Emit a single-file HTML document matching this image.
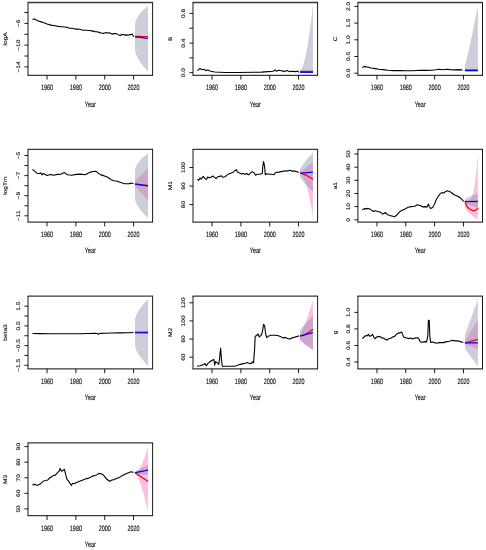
<!DOCTYPE html>
<html><head><meta charset="utf-8"><title>Forecast plots</title>
<style>html,body{margin:0;padding:0;background:#fff;}body{width:486px;height:550px;overflow:hidden;}svg{display:block;}</style>
</head><body>
<svg width="486" height="550" viewBox="0 0 486 550" font-family="'Liberation Sans', Arial, sans-serif" text-rendering="geometricPrecision" fill="#111">
<rect width="486" height="550" fill="#fff"/>
<polygon points="135.01,24.3 135.33,22.21 135.65,21.14 135.98,20.28 136.3,19.53 136.63,18.86 136.95,18.24 137.28,17.66 137.6,17.11 137.93,16.59 138.25,16.1 138.58,15.62 138.9,15.17 139.22,14.73 139.55,14.3 139.87,13.89 140.2,13.48 140.52,13.09 140.85,12.71 141.17,12.33 141.5,11.97 141.82,11.61 142.14,11.26 142.47,10.91 142.79,10.57 143.12,10.24 143.44,9.92 143.77,9.59 144.09,9.28 144.42,8.97 144.74,8.66 145.06,8.36 145.39,8.06 145.71,7.76 146.04,7.47 146.36,7.19 146.69,6.9 147.01,6.62 147.34,6.34 147.66,6.07 147.99,5.8 147.99,71.6 147.66,71.26 147.34,70.91 147.01,70.56 146.69,70.2 146.36,69.84 146.04,69.48 145.71,69.12 145.39,68.75 145.06,68.37 144.74,67.99 144.42,67.61 144.09,67.22 143.77,66.82 143.44,66.42 143.12,66.02 142.79,65.6 142.47,65.19 142.14,64.76 141.82,64.33 141.5,63.88 141.17,63.43 140.85,62.98 140.52,62.51 140.2,62.03 139.87,61.54 139.55,61.03 139.22,60.51 138.9,59.98 138.58,59.43 138.25,58.86 137.93,58.27 137.6,57.65 137.28,57 136.95,56.31 136.63,55.57 136.3,54.78 135.98,53.9 135.65,52.9 135.33,51.67 135.01,49.3" fill="rgba(130,130,165,0.4)"/>
<polyline points="32.5,19.6 34.4,18.9 37.6,20.8 42,22.1 47.1,24 51,25.1 55,25.8 58.3,26.4 61.6,26.7 64.9,27 67.3,27.4 69.4,28.2 71.5,28.2 73.5,28.5 75.2,29.1 77.6,29.1 79.7,29.2 81.3,29.7 83.4,30.3 86.3,30.3 89.6,30.5 92,30.9 95,31.6 97.1,31.8 99.1,32.4 101.2,33 103.2,33.4 104.5,33 106.1,32.6 107.3,33 109,32.7 110.2,33.2 111.5,33.8 112.4,34.2 113.5,33.6 115.6,33.6 117.2,34.1 118.9,35.1 120.1,35.5 121.3,34.6 123,34.5 124.6,35.1 126.3,34.9 127.9,35.2 129.6,34.6 131.2,34.4 132.4,34.2 133.3,36 133.7,36.7" fill="none" stroke="#000" stroke-width="1.1" stroke-linejoin="round"/>
<polyline points="135.01,36.4 135.65,36.41 136.3,36.42 136.95,36.43 137.6,36.44 138.25,36.45 138.9,36.46 139.55,36.47 140.2,36.48 140.85,36.49 141.5,36.5 142.14,36.51 142.79,36.52 143.44,36.53 144.09,36.54 144.74,36.55 145.39,36.56 146.04,36.57 146.69,36.58 147.34,36.59 147.99,36.6" fill="none" stroke="#ff0000" stroke-width="1.25"/>
<polyline points="135.01,36.9 135.65,36.98 136.3,37.05 136.95,37.12 137.6,37.2 138.25,37.27 138.9,37.35 139.55,37.42 140.2,37.5 140.85,37.57 141.5,37.65 142.14,37.73 142.79,37.8 143.44,37.88 144.09,37.95 144.74,38.02 145.39,38.1 146.04,38.17 146.69,38.25 147.34,38.32 147.99,38.4" fill="none" stroke="#0000ff" stroke-width="1.25"/>
<path d="M27.55 2.5H153.05 M27.55 75.3H153.05" stroke="#3a3a3a" stroke-width="1.3" fill="none"/>
<path d="M28 2.5V75.3 M152.6 2.5V75.3" stroke="#000" stroke-width="0.9" fill="none"/>
<text transform="translate(47.04,90.3) scale(0.7,1)" text-anchor="middle" font-size="7.8" stroke="#111" stroke-width="0.15">1960</text>
<text transform="translate(75.88,90.3) scale(0.7,1)" text-anchor="middle" font-size="7.8" stroke="#111" stroke-width="0.15">1980</text>
<text transform="translate(104.72,90.3) scale(0.7,1)" text-anchor="middle" font-size="7.8" stroke="#111" stroke-width="0.15">2000</text>
<text transform="translate(133.56,90.3) scale(0.7,1)" text-anchor="middle" font-size="7.8" stroke="#111" stroke-width="0.15">2020</text>
<text transform="translate(20.4,23.4) scale(0.8,1) rotate(-90)" text-anchor="middle" font-size="6.6" stroke="#111" stroke-width="0.15">−6</text>
<text transform="translate(20.4,45.15) scale(0.8,1) rotate(-90)" text-anchor="middle" font-size="6.6" stroke="#111" stroke-width="0.15">−10</text>
<text transform="translate(20.4,66.9) scale(0.8,1) rotate(-90)" text-anchor="middle" font-size="6.6" stroke="#111" stroke-width="0.15">−14</text>
<path d="M47.04 75.3V79.6 M75.88 75.3V79.6 M104.72 75.3V79.6 M133.56 75.3V79.6 M24.4 12.52H28 M24.4 23.4H28 M24.4 34.27H28 M24.4 45.15H28 M24.4 56.03H28 M24.4 66.9H28" stroke="#000" stroke-width="0.9" fill="none"/>
<text transform="translate(90.3,106.6) scale(0.7,1)" text-anchor="middle" font-size="7.8" stroke="#111" stroke-width="0.15">Year</text>
<text transform="translate(7.4,38.9) scale(0.8,1) rotate(-90)" text-anchor="middle" font-size="6.6" stroke="#111" stroke-width="0.15">logA</text>
<polygon points="300.01,71.23 300.33,70.89 300.65,70.49 300.98,70.02 301.3,69.48 301.63,68.87 301.95,68.2 302.28,67.46 302.6,66.65 302.93,65.77 303.25,64.82 303.58,63.81 303.9,62.73 304.22,61.58 304.55,60.36 304.87,59.08 305.2,57.72 305.52,56.3 305.85,54.81 306.17,53.26 306.5,51.63 306.82,49.94 307.14,48.18 307.47,46.35 307.79,44.46 308.12,42.49 308.44,40.46 308.77,38.36 309.09,36.2 309.42,33.96 309.74,31.66 310.06,29.29 310.39,26.85 310.71,24.34 311.04,21.77 311.36,19.13 311.69,16.42 312.01,13.64 312.34,10.79 312.66,7.88 312.99,4.9 312.99,72.8 312.66,72.8 312.34,72.8 312.01,72.8 311.69,72.8 311.36,72.8 311.04,72.8 310.71,72.8 310.39,72.8 310.06,72.8 309.74,72.8 309.42,72.8 309.09,72.8 308.77,72.8 308.44,72.8 308.12,72.8 307.79,72.8 307.47,72.8 307.14,72.8 306.82,72.8 306.5,72.8 306.17,72.8 305.85,72.8 305.52,72.8 305.2,72.8 304.87,72.8 304.55,72.8 304.22,72.8 303.9,72.8 303.58,72.8 303.25,72.8 302.93,72.8 302.6,72.8 302.28,72.8 301.95,72.8 301.63,72.8 301.3,72.8 300.98,72.8 300.65,72.8 300.33,72.8 300.01,72.8" fill="rgba(130,130,165,0.4)"/>
<polyline points="197.5,70.6 200,68.4 201.9,69.7 204.5,69.3 205.8,70.6 207.7,70 210.9,71.3 214.7,72 224.9,72.5 237.6,72.5 255,72.2 261.5,72.1 268,71.6 273.1,71.2 275.1,69.9 276.4,71.2 279,70.3 281.6,70.8 284.2,71.6 286.8,70.6 289.4,71.6 292.6,71.2 295.2,71.6 297.8,71.2 298.8,72.3" fill="none" stroke="#000" stroke-width="1.1" stroke-linejoin="round"/>
<polyline points="300.01,71.4 300.65,71.4 301.3,71.4 301.95,71.4 302.6,71.4 303.25,71.4 303.9,71.4 304.55,71.4 305.2,71.4 305.85,71.4 306.5,71.4 307.14,71.4 307.79,71.4 308.44,71.4 309.09,71.4 309.74,71.4 310.39,71.4 311.04,71.4 311.69,71.4 312.34,71.4 312.99,71.4" fill="none" stroke="#ff0000" stroke-width="1.25"/>
<polyline points="300.01,72.3 300.65,72.3 301.3,72.3 301.95,72.3 302.6,72.3 303.25,72.3 303.9,72.3 304.55,72.3 305.2,72.3 305.85,72.3 306.5,72.3 307.14,72.3 307.79,72.3 308.44,72.3 309.09,72.3 309.74,72.3 310.39,72.3 311.04,72.3 311.69,72.3 312.34,72.3 312.99,72.3" fill="none" stroke="#0000ff" stroke-width="1.25"/>
<path d="M192.55 2.5H318.05 M192.55 75.3H318.05" stroke="#3a3a3a" stroke-width="1.3" fill="none"/>
<path d="M193 2.5V75.3 M317.6 2.5V75.3" stroke="#000" stroke-width="0.9" fill="none"/>
<text transform="translate(212.04,90.3) scale(0.7,1)" text-anchor="middle" font-size="7.8" stroke="#111" stroke-width="0.15">1960</text>
<text transform="translate(240.88,90.3) scale(0.7,1)" text-anchor="middle" font-size="7.8" stroke="#111" stroke-width="0.15">1980</text>
<text transform="translate(269.72,90.3) scale(0.7,1)" text-anchor="middle" font-size="7.8" stroke="#111" stroke-width="0.15">2000</text>
<text transform="translate(298.56,90.3) scale(0.7,1)" text-anchor="middle" font-size="7.8" stroke="#111" stroke-width="0.15">2020</text>
<text transform="translate(185.4,72.7) scale(0.8,1) rotate(-90)" text-anchor="middle" font-size="6.6" stroke="#111" stroke-width="0.15">0.0</text>
<text transform="translate(185.4,43.05) scale(0.8,1) rotate(-90)" text-anchor="middle" font-size="6.6" stroke="#111" stroke-width="0.15">0.4</text>
<text transform="translate(185.4,13.4) scale(0.8,1) rotate(-90)" text-anchor="middle" font-size="6.6" stroke="#111" stroke-width="0.15">0.8</text>
<path d="M212.04 75.3V79.6 M240.88 75.3V79.6 M269.72 75.3V79.6 M298.56 75.3V79.6 M189.4 72.7H193 M189.4 57.88H193 M189.4 43.05H193 M189.4 28.23H193 M189.4 13.4H193" stroke="#000" stroke-width="0.9" fill="none"/>
<text transform="translate(255.3,106.6) scale(0.7,1)" text-anchor="middle" font-size="7.8" stroke="#111" stroke-width="0.15">Year</text>
<text transform="translate(172.4,38.9) scale(0.8,1) rotate(-90)" text-anchor="middle" font-size="6.6" stroke="#111" stroke-width="0.15">B</text>
<polygon points="464.91,65.92 465.23,64.72 465.55,63.48 465.88,62.21 466.2,60.92 466.53,59.6 466.85,58.26 467.18,56.91 467.5,55.53 467.83,54.14 468.15,52.73 468.48,51.31 468.8,49.88 469.12,48.43 469.45,46.97 469.77,45.49 470.1,44.01 470.42,42.51 470.75,41.01 471.07,39.49 471.4,37.97 471.72,36.43 472.04,34.89 472.37,33.33 472.69,31.77 473.02,30.2 473.34,28.63 473.67,27.04 473.99,25.45 474.32,23.85 474.64,22.24 474.96,20.62 475.29,19 475.61,17.37 475.94,15.74 476.26,14.1 476.59,12.45 476.91,10.8 477.24,9.14 477.56,7.47 477.89,5.8 477.89,71.5 477.56,71.5 477.24,71.5 476.91,71.5 476.59,71.5 476.26,71.5 475.94,71.5 475.61,71.5 475.29,71.5 474.96,71.5 474.64,71.5 474.32,71.5 473.99,71.5 473.67,71.5 473.34,71.5 473.02,71.5 472.69,71.5 472.37,71.5 472.04,71.5 471.72,71.5 471.4,71.5 471.07,71.5 470.75,71.5 470.42,71.5 470.1,71.5 469.77,71.5 469.45,71.5 469.12,71.5 468.8,71.5 468.48,71.5 468.15,71.5 467.83,71.5 467.5,71.5 467.18,71.5 466.85,71.5 466.53,71.5 466.2,71.5 465.88,71.5 465.55,71.5 465.23,71.5 464.91,71.5" fill="rgba(130,130,165,0.4)"/>
<polyline points="362.2,67.6 364.1,66.4 366.1,66.9 368.7,67.3 371.3,68 375.1,68.6 379,69.3 382.9,69.6 388.1,70.3 393.3,70.6 399.8,70.6 406.3,70.8 412.7,70.8 420,70.3 426,70.4 432,70.2 436,69.8 439.4,69.2 443,69.8 447,69.3 450,69.6 455,69.9 459,69.6 462.4,70.1" fill="none" stroke="#000" stroke-width="1.1" stroke-linejoin="round"/>
<polyline points="464.91,69.9 465.55,69.9 466.2,69.9 466.85,69.9 467.5,69.9 468.15,69.9 468.8,69.9 469.45,69.9 470.1,69.9 470.75,69.9 471.4,69.9 472.04,69.9 472.69,69.9 473.34,69.9 473.99,69.9 474.64,69.9 475.29,69.9 475.94,69.9 476.59,69.9 477.24,69.9 477.89,69.9" fill="none" stroke="#ff0000" stroke-width="1.25"/>
<polyline points="464.91,70.6 465.55,70.6 466.2,70.6 466.85,70.6 467.5,70.6 468.15,70.6 468.8,70.6 469.45,70.6 470.1,70.6 470.75,70.6 471.4,70.6 472.04,70.6 472.69,70.6 473.34,70.6 473.99,70.6 474.64,70.6 475.29,70.6 475.94,70.6 476.59,70.6 477.24,70.6 477.89,70.6" fill="none" stroke="#0000ff" stroke-width="1.25"/>
<path d="M357.45 2.5H482.95 M357.45 75.3H482.95" stroke="#3a3a3a" stroke-width="1.3" fill="none"/>
<path d="M357.9 2.5V75.3 M482.5 2.5V75.3" stroke="#000" stroke-width="0.9" fill="none"/>
<text transform="translate(376.94,90.3) scale(0.7,1)" text-anchor="middle" font-size="7.8" stroke="#111" stroke-width="0.15">1960</text>
<text transform="translate(405.78,90.3) scale(0.7,1)" text-anchor="middle" font-size="7.8" stroke="#111" stroke-width="0.15">1980</text>
<text transform="translate(434.62,90.3) scale(0.7,1)" text-anchor="middle" font-size="7.8" stroke="#111" stroke-width="0.15">2000</text>
<text transform="translate(463.46,90.3) scale(0.7,1)" text-anchor="middle" font-size="7.8" stroke="#111" stroke-width="0.15">2020</text>
<text transform="translate(350.3,73.2) scale(0.8,1) rotate(-90)" text-anchor="middle" font-size="6.6" stroke="#111" stroke-width="0.15">0.0</text>
<text transform="translate(350.3,56.5) scale(0.8,1) rotate(-90)" text-anchor="middle" font-size="6.6" stroke="#111" stroke-width="0.15">0.5</text>
<text transform="translate(350.3,39.8) scale(0.8,1) rotate(-90)" text-anchor="middle" font-size="6.6" stroke="#111" stroke-width="0.15">1.0</text>
<text transform="translate(350.3,23.1) scale(0.8,1) rotate(-90)" text-anchor="middle" font-size="6.6" stroke="#111" stroke-width="0.15">1.5</text>
<text transform="translate(350.3,6.4) scale(0.8,1) rotate(-90)" text-anchor="middle" font-size="6.6" stroke="#111" stroke-width="0.15">2.0</text>
<path d="M376.94 75.3V79.6 M405.78 75.3V79.6 M434.62 75.3V79.6 M463.46 75.3V79.6 M354.3 73.2H357.9 M354.3 56.5H357.9 M354.3 39.8H357.9 M354.3 23.1H357.9 M354.3 6.4H357.9" stroke="#000" stroke-width="0.9" fill="none"/>
<text transform="translate(420.2,106.6) scale(0.7,1)" text-anchor="middle" font-size="7.8" stroke="#111" stroke-width="0.15">Year</text>
<text transform="translate(337.3,38.9) scale(0.8,1) rotate(-90)" text-anchor="middle" font-size="6.6" stroke="#111" stroke-width="0.15">C</text>
<polygon points="135.01,181.56 135.33,181.14 135.65,180.73 135.98,180.34 136.3,179.95 136.63,179.57 136.95,179.2 137.28,178.84 137.6,178.48 137.93,178.12 138.25,177.77 138.58,177.42 138.9,177.08 139.22,176.74 139.55,176.4 139.87,176.07 140.2,175.74 140.52,175.41 140.85,175.09 141.17,174.76 141.5,174.44 141.82,174.12 142.14,173.81 142.47,173.49 142.79,173.18 143.12,172.87 143.44,172.56 143.77,172.26 144.09,171.95 144.42,171.65 144.74,171.34 145.06,171.04 145.39,170.75 145.71,170.45 146.04,170.15 146.36,169.86 146.69,169.56 147.01,169.27 147.34,168.98 147.66,168.69 147.99,168.4 147.99,200.2 147.66,199.88 147.34,199.56 147.01,199.24 146.69,198.91 146.36,198.59 146.04,198.26 145.71,197.94 145.39,197.61 145.06,197.28 144.74,196.95 144.42,196.62 144.09,196.29 143.77,195.95 143.44,195.62 143.12,195.28 142.79,194.94 142.47,194.6 142.14,194.26 141.82,193.92 141.5,193.57 141.17,193.23 140.85,192.88 140.52,192.53 140.2,192.17 139.87,191.82 139.55,191.46 139.22,191.1 138.9,190.74 138.58,190.37 138.25,190 137.93,189.63 137.6,189.25 137.28,188.87 136.95,188.49 136.63,188.1 136.3,187.7 135.98,187.3 135.65,186.89 135.33,186.48 135.01,186.05" fill="rgba(255,0,140,0.25)"/>
<polygon points="135.01,170.5 135.33,168.49 135.65,167.47 135.98,166.65 136.3,165.95 136.63,165.31 136.95,164.73 137.28,164.19 137.6,163.68 137.93,163.2 138.25,162.74 138.58,162.3 138.9,161.88 139.22,161.47 139.55,161.08 139.87,160.7 140.2,160.33 140.52,159.97 140.85,159.62 141.17,159.28 141.5,158.95 141.82,158.62 142.14,158.3 142.47,157.99 142.79,157.68 143.12,157.38 143.44,157.09 143.77,156.8 144.09,156.51 144.42,156.23 144.74,155.96 145.06,155.68 145.39,155.42 145.71,155.15 146.04,154.89 146.36,154.63 146.69,154.38 147.01,154.13 147.34,153.88 147.66,153.64 147.99,153.4 147.99,218.1 147.66,217.79 147.34,217.47 147.01,217.15 146.69,216.83 146.36,216.51 146.04,216.18 145.71,215.85 145.39,215.52 145.06,215.18 144.74,214.84 144.42,214.49 144.09,214.14 143.77,213.79 143.44,213.43 143.12,213.06 142.79,212.69 142.47,212.32 142.14,211.94 141.82,211.55 141.5,211.16 141.17,210.76 140.85,210.35 140.52,209.93 140.2,209.51 139.87,209.07 139.55,208.63 139.22,208.17 138.9,207.7 138.58,207.22 138.25,206.72 137.93,206.2 137.6,205.66 137.28,205.09 136.95,204.49 136.63,203.85 136.3,203.17 135.98,202.41 135.65,201.55 135.33,200.5 135.01,198.5" fill="rgba(130,130,165,0.4)"/>
<polyline points="32.5,169.3 34.4,170.9 36.9,173.2 39.5,173.5 40.8,172.9 42,174.8 43.3,173.5 47.1,175.4 50.3,174.4 53.5,175.2 57.3,174.4 61.2,174.1 64.4,172.6 67.5,174.8 71.4,175.2 76.5,174.4 80.3,174.1 85.4,174.8 88,173.2 90.7,172.1 92.8,171.5 96.2,171.4 98.2,173.2 100.9,174.9 104.4,175.9 107.8,177.3 111.2,179.7 113.9,180.7 117.3,181.3 120.7,182.4 124.8,183.7 128.9,183.7 131.6,183.1 133.5,183.8" fill="none" stroke="#000" stroke-width="1.1" stroke-linejoin="round"/>
<polyline points="135.01,184.2 135.65,184.29 136.3,184.38 136.95,184.47 137.6,184.56 138.25,184.65 138.9,184.74 139.55,184.83 140.2,184.92 140.85,185.01 141.5,185.1 142.14,185.19 142.79,185.28 143.44,185.37 144.09,185.46 144.74,185.55 145.39,185.64 146.04,185.73 146.69,185.82 147.34,185.91 147.99,186" fill="none" stroke="#ff0000" stroke-width="1.25"/>
<polyline points="135.01,184 135.65,184.08 136.3,184.16 136.95,184.24 137.6,184.32 138.25,184.4 138.9,184.48 139.55,184.56 140.2,184.64 140.85,184.72 141.5,184.8 142.14,184.88 142.79,184.96 143.44,185.04 144.09,185.12 144.74,185.2 145.39,185.28 146.04,185.36 146.69,185.44 147.34,185.52 147.99,185.6" fill="none" stroke="#0000ff" stroke-width="1.25"/>
<path d="M27.55 149.3H153.05 M27.55 222.1H153.05" stroke="#3a3a3a" stroke-width="1.3" fill="none"/>
<path d="M28 149.3V222.1 M152.6 149.3V222.1" stroke="#000" stroke-width="0.9" fill="none"/>
<text transform="translate(47.04,237.1) scale(0.7,1)" text-anchor="middle" font-size="7.8" stroke="#111" stroke-width="0.15">1960</text>
<text transform="translate(75.88,237.1) scale(0.7,1)" text-anchor="middle" font-size="7.8" stroke="#111" stroke-width="0.15">1980</text>
<text transform="translate(104.72,237.1) scale(0.7,1)" text-anchor="middle" font-size="7.8" stroke="#111" stroke-width="0.15">2000</text>
<text transform="translate(133.56,237.1) scale(0.7,1)" text-anchor="middle" font-size="7.8" stroke="#111" stroke-width="0.15">2020</text>
<text transform="translate(20.4,155.5) scale(0.8,1) rotate(-90)" text-anchor="middle" font-size="6.6" stroke="#111" stroke-width="0.15">−5</text>
<text transform="translate(20.4,175.6) scale(0.8,1) rotate(-90)" text-anchor="middle" font-size="6.6" stroke="#111" stroke-width="0.15">−7</text>
<text transform="translate(20.4,195.7) scale(0.8,1) rotate(-90)" text-anchor="middle" font-size="6.6" stroke="#111" stroke-width="0.15">−9</text>
<text transform="translate(20.4,215.8) scale(0.8,1) rotate(-90)" text-anchor="middle" font-size="6.6" stroke="#111" stroke-width="0.15">−11</text>
<path d="M47.04 222.1V226.4 M75.88 222.1V226.4 M104.72 222.1V226.4 M133.56 222.1V226.4 M24.4 155.5H28 M24.4 165.55H28 M24.4 175.6H28 M24.4 185.65H28 M24.4 195.7H28 M24.4 205.75H28 M24.4 215.8H28" stroke="#000" stroke-width="0.9" fill="none"/>
<text transform="translate(90.3,253.4) scale(0.7,1)" text-anchor="middle" font-size="7.8" stroke="#111" stroke-width="0.15">Year</text>
<text transform="translate(7.4,185.7) scale(0.8,1) rotate(-90)" text-anchor="middle" font-size="6.6" stroke="#111" stroke-width="0.15">logTm</text>
<polygon points="300.01,172.06 300.33,171.8 300.65,171.54 300.98,171.28 301.3,171.01 301.63,170.75 301.95,170.49 302.28,170.23 302.6,169.97 302.93,169.71 303.25,169.45 303.58,169.18 303.9,168.92 304.22,168.66 304.55,168.4 304.87,168.14 305.2,167.88 305.52,167.61 305.85,167.35 306.17,167.09 306.5,166.83 306.82,166.57 307.14,166.31 307.47,166.05 307.79,165.78 308.12,165.52 308.44,165.26 308.77,165 309.09,164.74 309.42,164.48 309.74,164.22 310.06,163.95 310.39,163.69 310.71,163.43 311.04,163.17 311.36,162.91 311.69,162.65 312.01,162.38 312.34,162.12 312.66,161.86 312.99,161.6 312.99,218.1 312.66,215.96 312.34,213.87 312.01,211.84 311.69,209.86 311.36,207.95 311.04,206.09 310.71,204.28 310.39,202.53 310.06,200.84 309.74,199.2 309.42,197.62 309.09,196.09 308.77,194.61 308.44,193.19 308.12,191.82 307.79,190.51 307.47,189.24 307.14,188.03 306.82,186.88 306.5,185.77 306.17,184.71 305.85,183.71 305.52,182.75 305.2,181.85 304.87,180.99 304.55,180.19 304.22,179.43 303.9,178.72 303.58,178.05 303.25,177.44 302.93,176.87 302.6,176.34 302.28,175.86 301.95,175.42 301.63,175.03 301.3,174.68 300.98,174.37 300.65,174.1 300.33,173.86 300.01,173.67" fill="rgba(255,0,140,0.25)"/>
<polygon points="300.01,169.27 300.33,168.65 300.65,168.06 300.98,167.5 301.3,166.96 301.63,166.44 301.95,165.93 302.28,165.44 302.6,164.96 302.93,164.49 303.25,164.03 303.58,163.58 303.9,163.14 304.22,162.7 304.55,162.28 304.87,161.86 305.2,161.44 305.52,161.03 305.85,160.63 306.17,160.23 306.5,159.84 306.82,159.45 307.14,159.06 307.47,158.68 307.79,158.31 308.12,157.93 308.44,157.56 308.77,157.2 309.09,156.84 309.42,156.48 309.74,156.12 310.06,155.77 310.39,155.42 310.71,155.07 311.04,154.72 311.36,154.38 311.69,154.04 312.01,153.7 312.34,153.36 312.66,153.03 312.99,152.7 312.99,191.6 312.66,191.32 312.34,191.03 312.01,190.74 311.69,190.45 311.36,190.16 311.04,189.87 310.71,189.57 310.39,189.27 310.06,188.97 309.74,188.66 309.42,188.35 309.09,188.04 308.77,187.73 308.44,187.41 308.12,187.09 307.79,186.77 307.47,186.44 307.14,186.11 306.82,185.77 306.5,185.43 306.17,185.09 305.85,184.74 305.52,184.39 305.2,184.03 304.87,183.66 304.55,183.29 304.22,182.92 303.9,182.53 303.58,182.14 303.25,181.74 302.93,181.33 302.6,180.92 302.28,180.49 301.95,180.05 301.63,179.59 301.3,179.12 300.98,178.64 300.65,178.13 300.33,177.6 300.01,177.03" fill="rgba(130,130,165,0.4)"/>
<polyline points="197.5,179 198.7,180.3 200,178 201.3,179.2 203.2,176.4 205.1,178.6 206.4,179.5 207.7,176.9 208.9,177.7 210.9,177.3 212.8,176 214,176.9 216,178.6 217.9,176.7 219.8,176.4 221.1,175.7 223,177.3 224.9,176.7 226.8,175.4 228.7,173.9 231.3,172.9 233.2,172.2 234.5,170.9 236.4,169.7 237.6,172.2 239.6,172.9 241.5,173.9 243.4,173.5 245.3,174.4 246.6,173.5 248.5,174.8 250.4,173.1 252.3,171.6 254.2,172.9 255.5,175.2 257.1,174.3 259.8,174.3 262.3,173.4 262.8,166.4 263.6,161.6 264.6,166.4 265.3,174.8 266.6,173.8 269.4,174.3 272.1,174.3 274.1,174.8 275.5,172.5 278.9,172.1 282.3,171.4 285.7,170.7 287.8,171.1 289.8,170.2 291.8,171.1 294.6,171.1 296.6,171.5 298.7,172.5" fill="none" stroke="#000" stroke-width="1.1" stroke-linejoin="round"/>
<polyline points="300.01,173.3 300.65,173.37 301.3,173.49 301.95,173.65 302.6,173.84 303.25,174.05 303.9,174.29 304.55,174.54 305.2,174.82 305.85,175.11 306.5,175.42 307.14,175.75 307.79,176.09 308.44,176.44 309.09,176.81 309.74,177.2 310.39,177.59 311.04,178 311.69,178.42 312.34,178.86 312.99,179.3" fill="none" stroke="#ff0000" stroke-width="1.25"/>
<polyline points="300.01,173.2 300.65,173.15 301.3,173.1 301.95,173.05 302.6,173 303.25,172.95 303.9,172.9 304.55,172.85 305.2,172.8 305.85,172.75 306.5,172.7 307.14,172.65 307.79,172.6 308.44,172.55 309.09,172.5 309.74,172.45 310.39,172.4 311.04,172.35 311.69,172.3 312.34,172.25 312.99,172.2" fill="none" stroke="#0000ff" stroke-width="1.25"/>
<path d="M192.55 149.3H318.05 M192.55 222.1H318.05" stroke="#3a3a3a" stroke-width="1.3" fill="none"/>
<path d="M193 149.3V222.1 M317.6 149.3V222.1" stroke="#000" stroke-width="0.9" fill="none"/>
<text transform="translate(212.04,237.1) scale(0.7,1)" text-anchor="middle" font-size="7.8" stroke="#111" stroke-width="0.15">1960</text>
<text transform="translate(240.88,237.1) scale(0.7,1)" text-anchor="middle" font-size="7.8" stroke="#111" stroke-width="0.15">1980</text>
<text transform="translate(269.72,237.1) scale(0.7,1)" text-anchor="middle" font-size="7.8" stroke="#111" stroke-width="0.15">2000</text>
<text transform="translate(298.56,237.1) scale(0.7,1)" text-anchor="middle" font-size="7.8" stroke="#111" stroke-width="0.15">2020</text>
<text transform="translate(185.4,204.6) scale(0.8,1) rotate(-90)" text-anchor="middle" font-size="6.6" stroke="#111" stroke-width="0.15">80</text>
<text transform="translate(185.4,186.05) scale(0.8,1) rotate(-90)" text-anchor="middle" font-size="6.6" stroke="#111" stroke-width="0.15">90</text>
<text transform="translate(185.4,167.5) scale(0.8,1) rotate(-90)" text-anchor="middle" font-size="6.6" stroke="#111" stroke-width="0.15">100</text>
<path d="M212.04 222.1V226.4 M240.88 222.1V226.4 M269.72 222.1V226.4 M298.56 222.1V226.4 M189.4 204.6H193 M189.4 186.05H193 M189.4 167.5H193" stroke="#000" stroke-width="0.9" fill="none"/>
<text transform="translate(255.3,253.4) scale(0.7,1)" text-anchor="middle" font-size="7.8" stroke="#111" stroke-width="0.15">Year</text>
<text transform="translate(172.4,185.7) scale(0.8,1) rotate(-90)" text-anchor="middle" font-size="6.6" stroke="#111" stroke-width="0.15">M1</text>
<polygon points="464.91,202 465.23,201.98 465.55,201.96 465.88,201.93 466.2,201.9 466.53,201.85 466.85,201.8 467.18,201.73 467.5,201.64 467.83,201.53 468.15,201.4 468.48,201.23 468.8,201.04 469.12,200.8 469.45,200.52 469.77,200.2 470.1,199.82 470.42,199.37 470.75,198.87 471.07,198.28 471.4,197.62 471.72,196.87 472.04,196.03 472.37,195.08 472.69,194.01 473.02,192.83 473.34,191.52 473.67,190.07 473.99,188.47 474.32,186.71 474.64,184.78 474.96,182.67 475.29,180.37 475.61,177.86 475.94,175.14 476.26,172.2 476.59,169.01 476.91,165.57 477.24,161.87 477.56,157.88 477.89,153.6 477.89,219.5 477.56,219.31 477.24,219.12 476.91,218.92 476.59,218.72 476.26,218.52 475.94,218.32 475.61,218.11 475.29,217.9 474.96,217.69 474.64,217.47 474.32,217.25 473.99,217.03 473.67,216.8 473.34,216.57 473.02,216.34 472.69,216.1 472.37,215.86 472.04,215.61 471.72,215.36 471.4,215.1 471.07,214.84 470.75,214.57 470.42,214.29 470.1,214.01 469.77,213.72 469.45,213.42 469.12,213.11 468.8,212.8 468.48,212.47 468.15,212.14 467.83,211.79 467.5,211.42 467.18,211.05 466.85,210.65 466.53,210.24 466.2,209.8 465.88,209.33 465.55,208.83 465.23,208.29 464.91,207.69" fill="rgba(255,0,140,0.25)"/>
<polygon points="464.91,199.47 465.23,199.21 465.55,198.97 465.88,198.75 466.2,198.54 466.53,198.34 466.85,198.15 467.18,197.96 467.5,197.79 467.83,197.61 468.15,197.45 468.48,197.29 468.8,197.13 469.12,196.98 469.45,196.83 469.77,196.68 470.1,196.54 470.42,196.4 470.75,196.26 471.07,196.12 471.4,195.99 471.72,195.86 472.04,195.73 472.37,195.61 472.69,195.48 473.02,195.36 473.34,195.24 473.67,195.12 473.99,195 474.32,194.89 474.64,194.77 474.96,194.66 475.29,194.55 475.61,194.44 475.94,194.33 476.26,194.22 476.59,194.12 476.91,194.01 477.24,193.91 477.56,193.8 477.89,193.7 477.89,208.1 477.56,208.01 477.24,207.91 476.91,207.82 476.59,207.72 476.26,207.63 475.94,207.53 475.61,207.43 475.29,207.33 474.96,207.23 474.64,207.13 474.32,207.03 473.99,206.93 473.67,206.82 473.34,206.72 473.02,206.61 472.69,206.5 472.37,206.39 472.04,206.28 471.72,206.17 471.4,206.05 471.07,205.93 470.75,205.82 470.42,205.7 470.1,205.57 469.77,205.45 469.45,205.32 469.12,205.19 468.8,205.06 468.48,204.92 468.15,204.78 467.83,204.64 467.5,204.5 467.18,204.34 466.85,204.19 466.53,204.02 466.2,203.86 465.88,203.68 465.55,203.49 465.23,203.29 464.91,203.08" fill="rgba(130,130,165,0.4)"/>
<polyline points="362.2,209.9 364.1,208.6 366.1,208.9 368,208.4 370,209.1 371.9,210.4 373.2,211.5 375.1,210.8 377.7,211.5 380.3,212.1 382.9,214.1 385.3,212.5 387.5,214.7 390.1,215.6 392,216 394.6,216.7 397.2,214.7 399.8,211.7 401.7,210.4 405,208.9 408.2,207.3 411.4,206.6 414.7,206.3 417.3,204.7 420.8,205.7 422.9,206.9 425,206.6 427.1,207.1 428.5,204.1 429.2,206.2 430.6,208.5 432.7,207.6 434.8,203.4 436.2,199.8 438.3,196.3 440.4,193.5 442.5,192.6 443.9,193.1 445.3,191.7 447.4,190.7 449.5,191.4 451.6,192.8 453.7,194.5 455.8,195.4 457.9,196.3 460,197.7 462.1,199.6 463.6,201.3" fill="none" stroke="#000" stroke-width="1.1" stroke-linejoin="round"/>
<polyline points="464.9,201.5 466.3,205.2 468,207.6 469.9,209.1 471.7,210.1 473.4,210.5 475,210.3 476.2,209.8 477.3,209 478.3,208" fill="none" stroke="#ff0000" stroke-width="1.25"/>
<polyline points="464.91,201.5 465.55,201.5 466.2,201.5 466.85,201.5 467.5,201.5 468.15,201.5 468.8,201.5 469.45,201.5 470.1,201.5 470.75,201.5 471.4,201.5 472.04,201.5 472.69,201.5 473.34,201.5 473.99,201.5 474.64,201.5 475.29,201.5 475.94,201.5 476.59,201.5 477.24,201.5 477.89,201.5" fill="none" stroke="#0000ff" stroke-width="1.25"/>
<path d="M357.45 149.3H482.95 M357.45 222.1H482.95" stroke="#3a3a3a" stroke-width="1.3" fill="none"/>
<path d="M357.9 149.3V222.1 M482.5 149.3V222.1" stroke="#000" stroke-width="0.9" fill="none"/>
<text transform="translate(376.94,237.1) scale(0.7,1)" text-anchor="middle" font-size="7.8" stroke="#111" stroke-width="0.15">1960</text>
<text transform="translate(405.78,237.1) scale(0.7,1)" text-anchor="middle" font-size="7.8" stroke="#111" stroke-width="0.15">1980</text>
<text transform="translate(434.62,237.1) scale(0.7,1)" text-anchor="middle" font-size="7.8" stroke="#111" stroke-width="0.15">2000</text>
<text transform="translate(463.46,237.1) scale(0.7,1)" text-anchor="middle" font-size="7.8" stroke="#111" stroke-width="0.15">2020</text>
<text transform="translate(350.3,219.8) scale(0.8,1) rotate(-90)" text-anchor="middle" font-size="6.6" stroke="#111" stroke-width="0.15">0</text>
<text transform="translate(350.3,206.64) scale(0.8,1) rotate(-90)" text-anchor="middle" font-size="6.6" stroke="#111" stroke-width="0.15">10</text>
<text transform="translate(350.3,193.48) scale(0.8,1) rotate(-90)" text-anchor="middle" font-size="6.6" stroke="#111" stroke-width="0.15">20</text>
<text transform="translate(350.3,180.32) scale(0.8,1) rotate(-90)" text-anchor="middle" font-size="6.6" stroke="#111" stroke-width="0.15">30</text>
<text transform="translate(350.3,167.16) scale(0.8,1) rotate(-90)" text-anchor="middle" font-size="6.6" stroke="#111" stroke-width="0.15">40</text>
<text transform="translate(350.3,154) scale(0.8,1) rotate(-90)" text-anchor="middle" font-size="6.6" stroke="#111" stroke-width="0.15">50</text>
<path d="M376.94 222.1V226.4 M405.78 222.1V226.4 M434.62 222.1V226.4 M463.46 222.1V226.4 M354.3 219.8H357.9 M354.3 206.64H357.9 M354.3 193.48H357.9 M354.3 180.32H357.9 M354.3 167.16H357.9 M354.3 154H357.9" stroke="#000" stroke-width="0.9" fill="none"/>
<text transform="translate(420.2,253.4) scale(0.7,1)" text-anchor="middle" font-size="7.8" stroke="#111" stroke-width="0.15">Year</text>
<text transform="translate(337.3,185.7) scale(0.8,1) rotate(-90)" text-anchor="middle" font-size="6.6" stroke="#111" stroke-width="0.15">a1</text>
<polygon points="135.01,320.4 135.33,318.1 135.65,316.92 135.98,315.96 136.3,315.13 136.63,314.37 136.95,313.67 137.28,313.02 137.6,312.4 137.93,311.82 138.25,311.26 138.58,310.72 138.9,310.2 139.22,309.7 139.55,309.21 139.87,308.74 140.2,308.28 140.52,307.83 140.85,307.39 141.17,306.97 141.5,306.55 141.82,306.13 142.14,305.73 142.47,305.33 142.79,304.94 143.12,304.56 143.44,304.18 143.77,303.81 144.09,303.45 144.42,303.09 144.74,302.73 145.06,302.38 145.39,302.03 145.71,301.69 146.04,301.35 146.36,301.02 146.69,300.69 147.01,300.36 147.34,300.04 147.66,299.72 147.99,299.4 147.99,365.6 147.66,365.29 147.34,364.97 147.01,364.65 146.69,364.33 146.36,364 146.04,363.67 145.71,363.33 145.39,362.99 145.06,362.65 144.74,362.3 144.42,361.95 144.09,361.59 143.77,361.23 143.44,360.86 143.12,360.49 142.79,360.11 142.47,359.72 142.14,359.33 141.82,358.93 141.5,358.52 141.17,358.11 140.85,357.68 140.52,357.25 140.2,356.8 139.87,356.35 139.55,355.88 139.22,355.4 138.9,354.9 138.58,354.39 138.25,353.85 137.93,353.3 137.6,352.72 137.28,352.11 136.95,351.46 136.63,350.77 136.3,350.02 135.98,349.2 135.65,348.25 135.33,347.07 135.01,344.8" fill="rgba(130,130,165,0.4)"/>
<polyline points="32.5,333.5 40,333.6 50,333.7 60,333.8 70,333.8 80,333.7 88,333.5 95,333.4 97.3,333.5 98.4,334.4 99.6,333.4 105,333.2 112,333 120,332.9 128,332.7 133.5,332.5" fill="none" stroke="#000" stroke-width="1.1" stroke-linejoin="round"/>
<polyline points="135.01,332.9 135.65,332.9 136.3,332.9 136.95,332.9 137.6,332.9 138.25,332.9 138.9,332.9 139.55,332.9 140.2,332.9 140.85,332.9 141.5,332.9 142.14,332.9 142.79,332.9 143.44,332.9 144.09,332.9 144.74,332.9 145.39,332.9 146.04,332.9 146.69,332.9 147.34,332.9 147.99,332.9" fill="none" stroke="#ff0000" stroke-width="1.25"/>
<polyline points="135.01,332.3 135.65,332.3 136.3,332.3 136.95,332.3 137.6,332.3 138.25,332.3 138.9,332.3 139.55,332.3 140.2,332.3 140.85,332.3 141.5,332.3 142.14,332.3 142.79,332.3 143.44,332.3 144.09,332.3 144.74,332.3 145.39,332.3 146.04,332.3 146.69,332.3 147.34,332.3 147.99,332.3" fill="none" stroke="#0000ff" stroke-width="1.25"/>
<path d="M27.55 296.1H153.05 M27.55 368.9H153.05" stroke="#3a3a3a" stroke-width="1.3" fill="none"/>
<path d="M28 296.1V368.9 M152.6 296.1V368.9" stroke="#000" stroke-width="0.9" fill="none"/>
<text transform="translate(47.04,383.9) scale(0.7,1)" text-anchor="middle" font-size="7.8" stroke="#111" stroke-width="0.15">1960</text>
<text transform="translate(75.88,383.9) scale(0.7,1)" text-anchor="middle" font-size="7.8" stroke="#111" stroke-width="0.15">1980</text>
<text transform="translate(104.72,383.9) scale(0.7,1)" text-anchor="middle" font-size="7.8" stroke="#111" stroke-width="0.15">2000</text>
<text transform="translate(133.56,383.9) scale(0.7,1)" text-anchor="middle" font-size="7.8" stroke="#111" stroke-width="0.15">2020</text>
<text transform="translate(20.4,306.2) scale(0.8,1) rotate(-90)" text-anchor="middle" font-size="6.6" stroke="#111" stroke-width="0.15">1.5</text>
<text transform="translate(20.4,325.9) scale(0.8,1) rotate(-90)" text-anchor="middle" font-size="6.6" stroke="#111" stroke-width="0.15">0.5</text>
<text transform="translate(20.4,345.6) scale(0.8,1) rotate(-90)" text-anchor="middle" font-size="6.6" stroke="#111" stroke-width="0.15">−0.5</text>
<text transform="translate(20.4,365.3) scale(0.8,1) rotate(-90)" text-anchor="middle" font-size="6.6" stroke="#111" stroke-width="0.15">−1.5</text>
<path d="M47.04 368.9V373.2 M75.88 368.9V373.2 M104.72 368.9V373.2 M133.56 368.9V373.2 M24.4 306.2H28 M24.4 316.05H28 M24.4 325.9H28 M24.4 335.75H28 M24.4 345.6H28 M24.4 355.45H28 M24.4 365.3H28" stroke="#000" stroke-width="0.9" fill="none"/>
<text transform="translate(90.3,400.2) scale(0.7,1)" text-anchor="middle" font-size="7.8" stroke="#111" stroke-width="0.15">Year</text>
<text transform="translate(7.4,332.5) scale(0.8,1) rotate(-90)" text-anchor="middle" font-size="6.6" stroke="#111" stroke-width="0.15">beta3</text>
<polygon points="300.01,334.61 300.33,334.06 300.65,333.48 300.98,332.87 301.3,332.24 301.63,331.58 301.95,330.9 302.28,330.2 302.6,329.49 302.93,328.75 303.25,328 303.58,327.23 303.9,326.44 304.22,325.64 304.55,324.83 304.87,324 305.2,323.15 305.52,322.29 305.85,321.42 306.17,320.54 306.5,319.65 306.82,318.74 307.14,317.82 307.47,316.89 307.79,315.95 308.12,314.99 308.44,314.03 308.77,313.05 309.09,312.07 309.42,311.07 309.74,310.07 310.06,309.05 310.39,308.03 310.71,306.99 311.04,305.95 311.36,304.9 311.69,303.84 312.01,302.77 312.34,301.69 312.66,300.6 312.99,299.5 312.99,349.8 312.66,349.62 312.34,349.43 312.01,349.24 311.69,349.05 311.36,348.86 311.04,348.66 310.71,348.46 310.39,348.27 310.06,348.06 309.74,347.86 309.42,347.65 309.09,347.44 308.77,347.23 308.44,347.01 308.12,346.79 307.79,346.57 307.47,346.34 307.14,346.11 306.82,345.88 306.5,345.64 306.17,345.4 305.85,345.16 305.52,344.91 305.2,344.65 304.87,344.39 304.55,344.12 304.22,343.85 303.9,343.58 303.58,343.29 303.25,343 302.93,342.7 302.6,342.39 302.28,342.07 301.95,341.74 301.63,341.4 301.3,341.05 300.98,340.68 300.65,340.29 300.33,339.88 300.01,339.45" fill="rgba(255,0,140,0.25)"/>
<polygon points="300.01,330.6 300.33,329.99 300.65,329.49 300.98,329.01 301.3,328.56 301.63,328.12 301.95,327.7 302.28,327.28 302.6,326.87 302.93,326.46 303.25,326.06 303.58,325.67 303.9,325.28 304.22,324.89 304.55,324.51 304.87,324.13 305.2,323.76 305.52,323.38 305.85,323.01 306.17,322.64 306.5,322.28 306.82,321.91 307.14,321.55 307.47,321.19 307.79,320.83 308.12,320.48 308.44,320.12 308.77,319.77 309.09,319.42 309.42,319.07 309.74,318.72 310.06,318.37 310.39,318.03 310.71,317.68 311.04,317.34 311.36,316.99 311.69,316.65 312.01,316.31 312.34,315.97 312.66,315.64 312.99,315.3 312.99,349.8 312.66,349.59 312.34,349.39 312.01,349.18 311.69,348.97 311.36,348.76 311.04,348.55 310.71,348.33 310.39,348.12 310.06,347.9 309.74,347.69 309.42,347.47 309.09,347.25 308.77,347.03 308.44,346.8 308.12,346.58 307.79,346.35 307.47,346.12 307.14,345.89 306.82,345.66 306.5,345.42 306.17,345.19 305.85,344.95 305.52,344.7 305.2,344.46 304.87,344.21 304.55,343.96 304.22,343.7 303.9,343.44 303.58,343.18 303.25,342.91 302.93,342.64 302.6,342.36 302.28,342.08 301.95,341.78 301.63,341.48 301.3,341.16 300.98,340.84 300.65,340.48 300.33,340.1 300.01,339.6" fill="rgba(130,130,165,0.4)"/>
<polyline points="197.1,366.3 200,365.7 202.4,364.9 204.1,364.3 205,363.4 205.9,365.2 206.5,365.7 207.7,363.6 209.4,362.2 211.2,360.8 212.9,359.9 213.9,359.6 214.7,365.2 215.6,361.6 216.8,362.5 217.6,362.8 218.8,364.3 219.7,357.5 220.6,348.1 221.4,358.7 222.3,366.3 228.2,366.3 234.1,366.3 236.4,365.7 238.7,364.8 241.1,364.1 243.4,363.6 245.2,363.2 247,362.5 248.7,363.2 250.9,363.6 252.3,361.8 253.5,362.9 254.5,350.6 255.2,336.2 256.6,335.5 258.1,334 259.2,336.9 261,335.5 262.4,331.9 263.6,324.4 264.6,325.8 265.6,333.3 266.7,337.6 268.9,335.9 271,335.2 274.6,335.2 277.5,335.5 280.4,336.6 283.3,337.9 285.4,337.4 287.6,338.5 289.8,339.1 291.9,337.9 294.1,337.4 297,336.5 299.1,335.9" fill="none" stroke="#000" stroke-width="1.1" stroke-linejoin="round"/>
<polyline points="300.01,336 300.65,335.93 301.3,335.79 301.95,335.61 302.6,335.4 303.25,335.16 303.9,334.9 304.55,334.61 305.2,334.31 305.85,333.98 306.5,333.63 307.14,333.27 307.79,332.89 308.44,332.49 309.09,332.08 309.74,331.65 310.39,331.21 311.04,330.75 311.69,330.28 312.34,329.8 312.99,329.3" fill="none" stroke="#ff0000" stroke-width="1.25"/>
<polyline points="300.01,336 300.65,335.83 301.3,335.66 301.95,335.49 302.6,335.32 303.25,335.15 303.9,334.98 304.55,334.81 305.2,334.64 305.85,334.47 306.5,334.3 307.14,334.13 307.79,333.96 308.44,333.79 309.09,333.62 309.74,333.45 310.39,333.28 311.04,333.11 311.69,332.94 312.34,332.77 312.99,332.6" fill="none" stroke="#0000ff" stroke-width="1.25"/>
<path d="M192.55 296.1H318.05 M192.55 368.9H318.05" stroke="#3a3a3a" stroke-width="1.3" fill="none"/>
<path d="M193 296.1V368.9 M317.6 296.1V368.9" stroke="#000" stroke-width="0.9" fill="none"/>
<text transform="translate(212.04,383.9) scale(0.7,1)" text-anchor="middle" font-size="7.8" stroke="#111" stroke-width="0.15">1960</text>
<text transform="translate(240.88,383.9) scale(0.7,1)" text-anchor="middle" font-size="7.8" stroke="#111" stroke-width="0.15">1980</text>
<text transform="translate(269.72,383.9) scale(0.7,1)" text-anchor="middle" font-size="7.8" stroke="#111" stroke-width="0.15">2000</text>
<text transform="translate(298.56,383.9) scale(0.7,1)" text-anchor="middle" font-size="7.8" stroke="#111" stroke-width="0.15">2020</text>
<text transform="translate(185.4,357.2) scale(0.8,1) rotate(-90)" text-anchor="middle" font-size="6.6" stroke="#111" stroke-width="0.15">60</text>
<text transform="translate(185.4,339.07) scale(0.8,1) rotate(-90)" text-anchor="middle" font-size="6.6" stroke="#111" stroke-width="0.15">80</text>
<text transform="translate(185.4,320.93) scale(0.8,1) rotate(-90)" text-anchor="middle" font-size="6.6" stroke="#111" stroke-width="0.15">100</text>
<text transform="translate(185.4,302.8) scale(0.8,1) rotate(-90)" text-anchor="middle" font-size="6.6" stroke="#111" stroke-width="0.15">120</text>
<path d="M212.04 368.9V373.2 M240.88 368.9V373.2 M269.72 368.9V373.2 M298.56 368.9V373.2 M189.4 357.2H193 M189.4 339.07H193 M189.4 320.93H193 M189.4 302.8H193" stroke="#000" stroke-width="0.9" fill="none"/>
<text transform="translate(255.3,400.2) scale(0.7,1)" text-anchor="middle" font-size="7.8" stroke="#111" stroke-width="0.15">Year</text>
<text transform="translate(172.4,332.5) scale(0.8,1) rotate(-90)" text-anchor="middle" font-size="6.6" stroke="#111" stroke-width="0.15">M2</text>
<polygon points="464.91,341.1 465.23,340.58 465.55,340.06 465.88,339.54 466.2,339.02 466.53,338.5 466.85,337.98 467.18,337.46 467.5,336.94 467.83,336.42 468.15,335.9 468.48,335.38 468.8,334.86 469.12,334.34 469.45,333.82 469.77,333.3 470.1,332.78 470.42,332.26 470.75,331.74 471.07,331.22 471.4,330.7 471.72,330.18 472.04,329.66 472.37,329.14 472.69,328.62 473.02,328.1 473.34,327.58 473.67,327.06 473.99,326.54 474.32,326.02 474.64,325.5 474.96,324.98 475.29,324.46 475.61,323.94 475.94,323.42 476.26,322.9 476.59,322.38 476.91,321.86 477.24,321.34 477.56,320.82 477.89,320.3 477.89,349.1 477.56,348.97 477.24,348.84 476.91,348.72 476.59,348.59 476.26,348.46 475.94,348.33 475.61,348.2 475.29,348.08 474.96,347.95 474.64,347.82 474.32,347.69 473.99,347.56 473.67,347.44 473.34,347.31 473.02,347.18 472.69,347.05 472.37,346.92 472.04,346.8 471.72,346.67 471.4,346.54 471.07,346.41 470.75,346.28 470.42,346.16 470.1,346.03 469.77,345.9 469.45,345.77 469.12,345.64 468.8,345.52 468.48,345.39 468.15,345.26 467.83,345.13 467.5,345 467.18,344.88 466.85,344.75 466.53,344.62 466.2,344.49 465.88,344.36 465.55,344.24 465.23,344.11 464.91,343.98" fill="rgba(255,0,140,0.25)"/>
<polygon points="464.91,334.8 465.23,333.92 465.55,333.04 465.88,332.15 466.2,331.27 466.53,330.39 466.85,329.5 467.18,328.62 467.5,327.74 467.83,326.86 468.15,325.97 468.48,325.09 468.8,324.21 469.12,323.33 469.45,322.44 469.77,321.56 470.1,320.68 470.42,319.8 470.75,318.91 471.07,318.03 471.4,317.15 471.72,316.27 472.04,315.38 472.37,314.5 472.69,313.62 473.02,312.74 473.34,311.86 473.67,310.97 473.99,310.09 474.32,309.21 474.64,308.32 474.96,307.44 475.29,306.56 475.61,305.68 475.94,304.79 476.26,303.91 476.59,303.03 476.91,302.15 477.24,301.26 477.56,300.38 477.89,299.5 477.89,366.3 477.56,365.86 477.24,365.42 476.91,364.99 476.59,364.55 476.26,364.11 475.94,363.68 475.61,363.24 475.29,362.8 474.96,362.36 474.64,361.93 474.32,361.49 473.99,361.05 473.67,360.61 473.34,360.18 473.02,359.74 472.69,359.3 472.37,358.86 472.04,358.43 471.72,357.99 471.4,357.55 471.07,357.11 470.75,356.67 470.42,356.24 470.1,355.8 469.77,355.36 469.45,354.92 469.12,354.49 468.8,354.05 468.48,353.61 468.15,353.18 467.83,352.74 467.5,352.3 467.18,351.86 466.85,351.43 466.53,350.99 466.2,350.55 465.88,350.11 465.55,349.68 465.23,349.24 464.91,348.8" fill="rgba(130,130,165,0.4)"/>
<polyline points="362.2,338.6 364.1,337 365.8,335.5 367.1,336 368.4,334.4 370,336.4 371.5,335.5 372.6,334.4 373.9,337.3 375.1,338.6 376.7,337 378.4,336.4 380.3,336.8 382.3,338.3 384,338.1 385.5,339.6 387.1,340 388.8,338.7 390.7,338.3 392.6,337 394.6,336.4 396.5,334.2 398.5,332.9 399.8,333.1 401.7,332.1 402.6,334.4 403.7,337 405.6,337.7 408.2,338.6 410.8,338.1 412.7,339 414.7,338.1 417.3,337.7 418,337.9 419.4,339.7 420.2,341.9 422.3,342.2 424.5,341.6 426.6,341.9 427.8,336.1 428.4,320.3 429.2,320.3 429.8,336.1 430.7,342.6 432.4,341.9 434.5,342.6 436,343.3 439.6,342.6 443.2,342.6 446.8,341.6 449.6,341.2 452.2,340.2 454.7,340.9 457.5,340.7 460.4,341.6 463.3,342.6" fill="none" stroke="#000" stroke-width="1.1" stroke-linejoin="round"/>
<polyline points="464.91,343 465.55,342.81 466.2,342.63 466.85,342.44 467.5,342.26 468.15,342.07 468.8,341.89 469.45,341.7 470.1,341.52 470.75,341.33 471.4,341.15 472.04,340.97 472.69,340.78 473.34,340.6 473.99,340.41 474.64,340.23 475.29,340.04 475.94,339.86 476.59,339.67 477.24,339.49 477.89,339.3" fill="none" stroke="#ff0000" stroke-width="1.25"/>
<polyline points="464.91,343 465.55,343 466.2,342.99 466.85,342.99 467.5,342.98 468.15,342.98 468.8,342.97 469.45,342.96 470.1,342.96 470.75,342.95 471.4,342.95 472.04,342.94 472.69,342.94 473.34,342.94 473.99,342.93 474.64,342.92 475.29,342.92 475.94,342.91 476.59,342.91 477.24,342.9 477.89,342.9" fill="none" stroke="#0000ff" stroke-width="1.25"/>
<path d="M357.45 296.1H482.95 M357.45 368.9H482.95" stroke="#3a3a3a" stroke-width="1.3" fill="none"/>
<path d="M357.9 296.1V368.9 M482.5 296.1V368.9" stroke="#000" stroke-width="0.9" fill="none"/>
<text transform="translate(376.94,383.9) scale(0.7,1)" text-anchor="middle" font-size="7.8" stroke="#111" stroke-width="0.15">1960</text>
<text transform="translate(405.78,383.9) scale(0.7,1)" text-anchor="middle" font-size="7.8" stroke="#111" stroke-width="0.15">1980</text>
<text transform="translate(434.62,383.9) scale(0.7,1)" text-anchor="middle" font-size="7.8" stroke="#111" stroke-width="0.15">2000</text>
<text transform="translate(463.46,383.9) scale(0.7,1)" text-anchor="middle" font-size="7.8" stroke="#111" stroke-width="0.15">2020</text>
<text transform="translate(350.3,362) scale(0.8,1) rotate(-90)" text-anchor="middle" font-size="6.6" stroke="#111" stroke-width="0.15">0.4</text>
<text transform="translate(350.3,345.47) scale(0.8,1) rotate(-90)" text-anchor="middle" font-size="6.6" stroke="#111" stroke-width="0.15">0.6</text>
<text transform="translate(350.3,328.93) scale(0.8,1) rotate(-90)" text-anchor="middle" font-size="6.6" stroke="#111" stroke-width="0.15">0.8</text>
<text transform="translate(350.3,312.4) scale(0.8,1) rotate(-90)" text-anchor="middle" font-size="6.6" stroke="#111" stroke-width="0.15">1.0</text>
<path d="M376.94 368.9V373.2 M405.78 368.9V373.2 M434.62 368.9V373.2 M463.46 368.9V373.2 M354.3 362H357.9 M354.3 345.47H357.9 M354.3 328.93H357.9 M354.3 312.4H357.9" stroke="#000" stroke-width="0.9" fill="none"/>
<text transform="translate(420.2,400.2) scale(0.7,1)" text-anchor="middle" font-size="7.8" stroke="#111" stroke-width="0.15">Year</text>
<text transform="translate(337.3,332.5) scale(0.8,1) rotate(-90)" text-anchor="middle" font-size="6.6" stroke="#111" stroke-width="0.15">g</text>
<polygon points="135.01,472.18 135.33,472.11 135.65,472 135.98,471.86 136.3,471.68 136.63,471.47 136.95,471.23 137.28,470.95 137.6,470.64 137.93,470.31 138.25,469.94 138.58,469.54 138.9,469.11 139.22,468.66 139.55,468.17 139.87,467.66 140.2,467.11 140.52,466.54 140.85,465.95 141.17,465.32 141.5,464.67 141.82,463.99 142.14,463.28 142.47,462.55 142.79,461.79 143.12,461.01 143.44,460.19 143.77,459.36 144.09,458.5 144.42,457.61 144.74,456.69 145.06,455.76 145.39,454.79 145.71,453.8 146.04,452.79 146.36,451.75 146.69,450.69 147.01,449.6 147.34,448.49 147.66,447.36 147.99,446.2 147.99,511.8 147.66,510.33 147.34,508.88 147.01,507.45 146.69,506.05 146.36,504.67 146.04,503.32 145.71,501.99 145.39,500.69 145.06,499.41 144.74,498.16 144.42,496.93 144.09,495.72 143.77,494.55 143.44,493.4 143.12,492.27 142.79,491.17 142.47,490.1 142.14,489.05 141.82,488.03 141.5,487.03 141.17,486.06 140.85,485.12 140.52,484.21 140.2,483.33 139.87,482.47 139.55,481.64 139.22,480.84 138.9,480.07 138.58,479.33 138.25,478.61 137.93,477.93 137.6,477.28 137.28,476.66 136.95,476.06 136.63,475.51 136.3,474.98 135.98,474.49 135.65,474.03 135.33,473.61 135.01,473.22" fill="rgba(255,0,140,0.25)"/>
<polygon points="135.01,471.74 135.33,471.53 135.65,471.33 135.98,471.13 136.3,470.94 136.63,470.75 136.95,470.57 137.28,470.39 137.6,470.21 137.93,470.04 138.25,469.86 138.58,469.69 138.9,469.53 139.22,469.36 139.55,469.2 139.87,469.03 140.2,468.87 140.52,468.71 140.85,468.55 141.17,468.4 141.5,468.24 141.82,468.09 142.14,467.93 142.47,467.78 142.79,467.63 143.12,467.48 143.44,467.33 143.77,467.18 144.09,467.03 144.42,466.88 144.74,466.73 145.06,466.59 145.39,466.44 145.71,466.3 146.04,466.15 146.36,466.01 146.69,465.87 147.01,465.72 147.34,465.58 147.66,465.44 147.99,465.3 147.99,474.9 147.66,474.89 147.34,474.88 147.01,474.87 146.69,474.85 146.36,474.84 146.04,474.83 145.71,474.81 145.39,474.8 145.06,474.78 144.74,474.77 144.42,474.75 144.09,474.73 143.77,474.71 143.44,474.69 143.12,474.67 142.79,474.65 142.47,474.63 142.14,474.61 141.82,474.58 141.5,474.56 141.17,474.53 140.85,474.51 140.52,474.48 140.2,474.45 139.87,474.42 139.55,474.38 139.22,474.35 138.9,474.31 138.58,474.28 138.25,474.24 137.93,474.19 137.6,474.15 137.28,474.1 136.95,474.05 136.63,474 136.3,473.94 135.98,473.88 135.65,473.81 135.33,473.74 135.01,473.66" fill="rgba(130,130,165,0.4)"/>
<polyline points="32.5,484.1 33.7,485 35,484.3 36.7,485.4 38.2,485 40.1,484.1 42,482.4 43.9,480.8 45.9,480.5 47.8,479.9 49.7,478 51.6,476.7 53.5,475.4 55.4,475.2 57.3,472.9 59.3,470.9 60.1,468.4 61.4,471.3 62.7,470.6 64.4,469.3 65.6,474.1 66.9,479.2 68.6,481.1 70.1,483.7 71.4,485.4 72.6,483.3 74.2,483.7 76.5,482.4 79,481.5 81.6,480.5 84.1,479.5 86.7,478.6 88,478.4 90.2,477.5 92.4,476.1 94.5,475.6 96.7,474.9 98.9,473.4 101.1,473.7 103.3,474.9 104.7,476.6 106.9,479.3 109.5,481.2 112,480 114.2,479.6 116.4,478.5 119.3,477.5 122.2,475.6 125.1,474.2 127.3,473.2 129.4,472.3 131.6,471.7 133.5,472.5" fill="none" stroke="#000" stroke-width="1.1" stroke-linejoin="round"/>
<polyline points="135.01,472.7 135.65,473.13 136.3,473.57 136.95,474 137.6,474.44 138.25,474.88 138.9,475.31 139.55,475.75 140.2,476.18 140.85,476.62 141.5,477.05 142.14,477.48 142.79,477.92 143.44,478.35 144.09,478.79 144.74,479.22 145.39,479.66 146.04,480.09 146.69,480.53 147.34,480.96 147.99,481.4" fill="none" stroke="#ff0000" stroke-width="1.25"/>
<polyline points="135.01,472.7 135.65,472.57 136.3,472.44 136.95,472.31 137.6,472.18 138.25,472.05 138.9,471.92 139.55,471.79 140.2,471.66 140.85,471.53 141.5,471.4 142.14,471.27 142.79,471.14 143.44,471.01 144.09,470.88 144.74,470.75 145.39,470.62 146.04,470.49 146.69,470.36 147.34,470.23 147.99,470.1" fill="none" stroke="#0000ff" stroke-width="1.25"/>
<path d="M27.55 442.9H153.05 M27.55 515.7H153.05" stroke="#3a3a3a" stroke-width="1.3" fill="none"/>
<path d="M28 442.9V515.7 M152.6 442.9V515.7" stroke="#000" stroke-width="0.9" fill="none"/>
<text transform="translate(47.04,530.7) scale(0.7,1)" text-anchor="middle" font-size="7.8" stroke="#111" stroke-width="0.15">1960</text>
<text transform="translate(75.88,530.7) scale(0.7,1)" text-anchor="middle" font-size="7.8" stroke="#111" stroke-width="0.15">1980</text>
<text transform="translate(104.72,530.7) scale(0.7,1)" text-anchor="middle" font-size="7.8" stroke="#111" stroke-width="0.15">2000</text>
<text transform="translate(133.56,530.7) scale(0.7,1)" text-anchor="middle" font-size="7.8" stroke="#111" stroke-width="0.15">2020</text>
<text transform="translate(20.4,508.9) scale(0.8,1) rotate(-90)" text-anchor="middle" font-size="6.6" stroke="#111" stroke-width="0.15">50</text>
<text transform="translate(20.4,493.32) scale(0.8,1) rotate(-90)" text-anchor="middle" font-size="6.6" stroke="#111" stroke-width="0.15">60</text>
<text transform="translate(20.4,477.75) scale(0.8,1) rotate(-90)" text-anchor="middle" font-size="6.6" stroke="#111" stroke-width="0.15">70</text>
<text transform="translate(20.4,462.18) scale(0.8,1) rotate(-90)" text-anchor="middle" font-size="6.6" stroke="#111" stroke-width="0.15">80</text>
<text transform="translate(20.4,446.6) scale(0.8,1) rotate(-90)" text-anchor="middle" font-size="6.6" stroke="#111" stroke-width="0.15">90</text>
<path d="M47.04 515.7V520 M75.88 515.7V520 M104.72 515.7V520 M133.56 515.7V520 M24.4 508.9H28 M24.4 493.32H28 M24.4 477.75H28 M24.4 462.18H28 M24.4 446.6H28" stroke="#000" stroke-width="0.9" fill="none"/>
<text transform="translate(90.3,547) scale(0.7,1)" text-anchor="middle" font-size="7.8" stroke="#111" stroke-width="0.15">Year</text>
<text transform="translate(7.4,479.3) scale(0.8,1) rotate(-90)" text-anchor="middle" font-size="6.6" stroke="#111" stroke-width="0.15">M3</text>
</svg>
</body></html>
